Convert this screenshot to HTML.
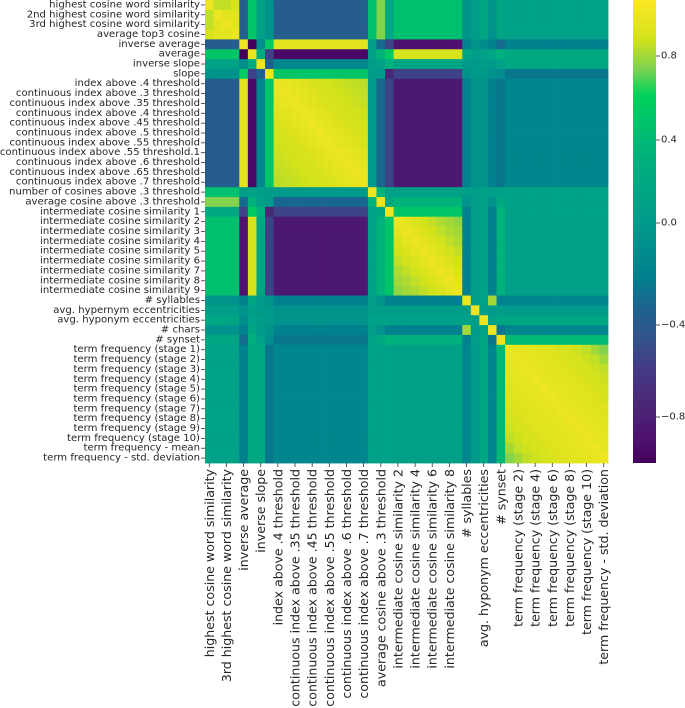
<!DOCTYPE html>
<html><head><meta charset="utf-8">
<style>
html,body{margin:0;padding:0;background:#fff;}
svg{display:block;font-family:"DejaVu Sans","Liberation Sans",sans-serif;}
</style></head>
<body>
<svg id="chart" width="685" height="708" viewBox="0 0 685 708" xmlns="http://www.w3.org/2000/svg">
<defs>
<linearGradient id="cbgrad" x1="0" y1="0" x2="0" y2="1">
<stop offset="0" stop-color="#fde725"/>
<stop offset="0.086" stop-color="#d2e21b"/>
<stop offset="0.15" stop-color="#7ad151"/>
<stop offset="0.205" stop-color="#00d35a"/>
<stop offset="0.32" stop-color="#00b47a"/>
<stop offset="0.48" stop-color="#009a8a"/>
<stop offset="0.6" stop-color="#007f8e"/>
<stop offset="0.66" stop-color="#1a658e"/>
<stop offset="0.72" stop-color="#30568c"/>
<stop offset="0.8" stop-color="#443a84"/>
<stop offset="0.88" stop-color="#4b2576"/>
<stop offset="0.95" stop-color="#4e1170"/>
<stop offset="1" stop-color="#44005a"/>
</linearGradient>
</defs>
<g id="cells"></g>
<g id="ylabels"></g>
<g id="xlabels"></g>
<g id="colorbar">
<rect x="633" y="0" width="23" height="463" fill="url(#cbgrad)"/>
</g>
</svg>
<script>
const labels = ["highest cosine word similarity","2nd highest cosine word similarity","3rd highest cosine word similarity","average top3 cosine","inverse average","average","inverse slope","slope","index above .4 threshold","continuous index above .3 threshold","continuous index above .35 threshold","continuous index above .4 threshold","continuous index above .45 threshold","continuous index above .5 threshold","continuous index above .55 threshold","continuous index above .55 threshold.1","continuous index above .6 threshold","continuous index above .65 threshold","continuous index above .7 threshold","number of cosines above .3 threshold","average cosine above .3 threshold","intermediate cosine similarity 1","intermediate cosine similarity 2","intermediate cosine similarity 3","intermediate cosine similarity 4","intermediate cosine similarity 5","intermediate cosine similarity 6","intermediate cosine similarity 7","intermediate cosine similarity 8","intermediate cosine similarity 9","# syllables","avg. hypernym eccentricities","avg. hyponym eccentricities","# chars","# synset","term frequency (stage 1)","term frequency (stage 2)","term frequency (stage 3)","term frequency (stage 4)","term frequency (stage 5)","term frequency (stage 6)","term frequency (stage 7)","term frequency (stage 8)","term frequency (stage 9)","term frequency (stage 10)","term frequency - mean","term frequency - std. deviation"];
const groupOf = [0,0,0,0,1,2,3,4,5,5,5,5,5,5,5,5,5,5,5,6,7,8,9,9,9,9,9,9,9,9,10,11,12,13,14,15,15,15,15,15,15,15,15,15,15,15,15];
const groupCorr = [
[0.9,-0.38,0.5,0.12,-0.05,-0.38,0.45,0.75,0.2,0.45,-0.05,0.05,0.15,-0.05,0.15,0.1],
[-0.38,1,-1,-0.1,0.55,0.95,0.05,-0.3,-0.55,-0.9,-0.2,-0.05,-0.1,-0.2,-0.3,-0.2],
[0.5,-1,1,0.25,-0.55,-0.95,0.1,0.35,0.55,0.9,0.15,0.05,0.1,0.15,0.3,0.2],
[0.12,-0.1,0.25,1,-0.35,-0.15,0.05,0.1,0.3,0.15,0,0,0.05,0,0.1,0.2],
[-0.05,0.55,-0.55,-0.35,1,0.5,0.05,0,-0.75,-0.55,-0.05,0,0,-0.05,-0.1,-0.25],
[-0.38,0.95,-0.95,-0.15,0.5,0.9,0,-0.32,-0.55,-0.85,-0.2,-0.05,-0.05,-0.2,-0.25,-0.15],
[0.45,0.05,0.1,0.05,0.05,0,1,0.35,0.1,0.1,0.05,0.05,0.1,0.05,0.1,0.1],
[0.75,-0.3,0.35,0.1,0,-0.32,0.35,1,0.15,0.35,-0.05,0.05,0.1,-0.05,0.2,0.1],
[0.2,-0.55,0.55,0.3,-0.75,-0.55,0.1,0.15,1,0.5,-0.2,0.05,0.1,-0.2,0.35,0.1],
[0.45,-0.9,0.9,0.15,-0.55,-0.85,0.1,0.35,0.5,0.9,-0.2,0.05,0.1,-0.2,0.3,0.08],
[-0.05,-0.2,0.15,0,-0.05,-0.2,0.05,-0.05,-0.2,-0.2,1,0.05,0.1,0.8,-0.2,-0.15],
[0.05,-0.05,0.05,0,0,-0.05,0.05,0.05,0.05,0.05,0.05,1,0.05,0,0.05,0],
[0.15,-0.1,0.1,0.05,0,-0.05,0.1,0.1,0.1,0.1,0.1,0.05,1,0.1,0.15,0.15],
[-0.05,-0.2,0.15,0,-0.05,-0.2,0.05,-0.05,-0.2,-0.2,0.8,0,0.1,1,-0.25,-0.15],
[0.15,-0.3,0.3,0.1,-0.1,-0.25,0.1,0.2,0.35,0.3,-0.2,0.05,0.15,-0.25,1,0.4],
[0.1,-0.2,0.2,0.2,-0.25,-0.15,0.1,0.1,0.1,0.08,-0.15,0,0.15,-0.15,0.4,0.95]];
const lagA = [1,0.9,0.88,0.92];
const lagF = [1,0.97,0.95,0.93,0.91,0.89,0.88,0.87,0.86,0.85,0.84];
const lagI = [1,0.96,0.92,0.88,0.85,0.82,0.8,0.77];
const lagO = [1,0.97,0.96,0.95,0.94,0.93,0.91,0.89,0.87,0.85,0.8,0.75];
const cbTicks = [0.8,0.4,0.0,-0.4,-0.8];
const cbTickLabels = ["0.8","0.4","0.0","\u22120.4","\u22120.8"];

const NS="http://www.w3.org/2000/svg";
const N = labels.length;
const X0=205, X1=608, Y0=0, Y1=463;
const cw=(X1-X0)/N, ch=(Y1-Y0)/N;
const xPos = c => X0 + c*cw;
const yPos = r => Y0 + r*ch;
const vKnots=[1.07,0.8,0.4,0,-0.4,-0.8,-1.0];
const yKnots=[0,56,140,223,325,417,463];
function valToY(v){
  if(v>=vKnots[0]) return 0;
  for(let i=0;i<vKnots.length-1;i++){
    if(v<=vKnots[i]&&v>=vKnots[i+1]){const t=(vKnots[i]-v)/(vKnots[i]-vKnots[i+1]);return yKnots[i]+t*(yKnots[i+1]-yKnots[i]);}
  }
  return 463;
}
const stops=[[0,"#fde725"],[0.086,"#d2e21b"],[0.15,"#7ad151"],[0.205,"#00d35a"],[0.32,"#00b47a"],[0.48,"#009a8a"],[0.6,"#007f8e"],[0.66,"#1a658e"],[0.72,"#30568c"],[0.8,"#443a84"],[0.88,"#4b2576"],[0.95,"#4e1170"],[1,"#44005a"]];
function hex(h){return [1,3,5].map(i=>parseInt(h.substr(i,2),16));}
function color(v){
  const t=valToY(v)/463;
  for(let i=0;i<stops.length-1;i++){
    if(t>=stops[i][0]&&t<=stops[i+1][0]){
      const f=(t-stops[i][0])/(stops[i+1][0]-stops[i][0]);
      const a=hex(stops[i][1]),b=hex(stops[i+1][1]);
      return "rgb("+a.map((x,k)=>Math.round(x+(b[k]-x)*f)).join(",")+")";
    }
  }
  return stops[stops.length-1][1];
}
const lagFor={0:lagA,5:lagF,9:lagI,15:lagO};
function corr(i,j){
  if(i===j) return 1;
  const gi=groupOf[i],gj=groupOf[j];
  if(gi===gj && lagFor[gi]){
    if(gi===0){return i===0||j===0? (Math.abs(i-j)===3?0.9:0.85) : 0.95;}
    return lagFor[gi][Math.abs(i-j)];
  }
  return groupCorr[gi][gj];
}
const cells=document.getElementById('cells');
for(let r=0;r<N;r++){for(let c=0;c<N;c++){
  const el=document.createElementNS(NS,'rect');
  el.setAttribute('x',xPos(c).toFixed(2));
  el.setAttribute('y',yPos(r).toFixed(2));
  el.setAttribute('width',(cw+0.4).toFixed(2));
  el.setAttribute('height',(ch+0.4).toFixed(2));
  el.setAttribute('fill',color(corr(r,c)));
  
  
  cells.appendChild(el);
}}
const yl=document.getElementById('ylabels');
labels.forEach((lab,r)=>{
  const yc=yPos(r)+ch/2;
  const tk=document.createElementNS(NS,'line');
  tk.setAttribute('x1',201);tk.setAttribute('x2',205);tk.setAttribute('y1',yc);tk.setAttribute('y2',yc);
  tk.setAttribute('stroke','#333');tk.setAttribute('stroke-width','0.8');
  
  
  yl.appendChild(tk);
  const t=document.createElementNS(NS,'text');
  t.setAttribute('x',200);t.setAttribute('y',yc);
  t.setAttribute('text-anchor','end');t.setAttribute('dominant-baseline','central');
  t.setAttribute('font-size','10.1');t.setAttribute('fill','#262626');
  t.textContent=lab;
  
  
  yl.appendChild(t);
});
const xl=document.getElementById('xlabels');
labels.forEach((lab,c)=>{
  if(c%2!==0) return;
  const xc=xPos(c)+cw/2;
  const tk=document.createElementNS(NS,'line');
  tk.setAttribute('x1',xc);tk.setAttribute('x2',xc);tk.setAttribute('y1',463);tk.setAttribute('y2',467);
  tk.setAttribute('stroke','#333');tk.setAttribute('stroke-width','0.8');
  
  
  xl.appendChild(tk);
  const t=document.createElementNS(NS,'text');
  t.setAttribute('transform','translate('+xc.toFixed(2)+',469) rotate(-90)');
  t.setAttribute('text-anchor','end');t.setAttribute('dominant-baseline','central');
  t.setAttribute('font-size','12.6');t.setAttribute('fill','#262626');
  t.textContent=lab;
  
  
  xl.appendChild(t);
});
const cb=document.getElementById('colorbar');
cbTicks.forEach((v,i)=>{
  const y=valToY(v);
  const tk=document.createElementNS(NS,'line');
  tk.setAttribute('x1',656);tk.setAttribute('x2',660);tk.setAttribute('y1',y);tk.setAttribute('y2',y);
  tk.setAttribute('stroke','#333');tk.setAttribute('stroke-width','0.8');
  
  
  cb.appendChild(tk);
  const t=document.createElementNS(NS,'text');
  t.setAttribute('x',661);t.setAttribute('y',y);
  t.setAttribute('dominant-baseline','central');
  t.setAttribute('font-size','10');t.setAttribute('fill','#262626');
  t.textContent=cbTickLabels[i];
  
  
  cb.appendChild(t);
});
</script>
</body></html>
